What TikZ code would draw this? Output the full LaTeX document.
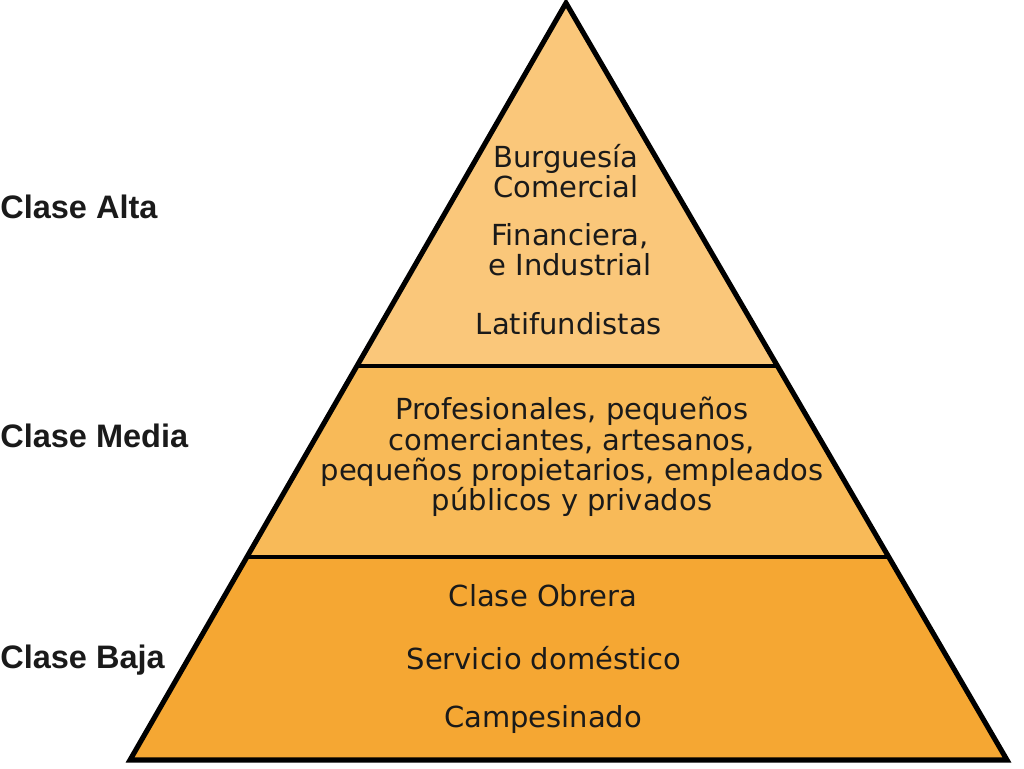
\documentclass[tikz,border=0pt]{standalone}
\usepackage{fontspec}
\newfontfamily\pixfont{DejaVu Sans}
\newfontfamily\lblfont{Liberation Sans}
\usetikzlibrary{calc}
\definecolor{naranjaA}{HTML}{FAC77A}
\definecolor{naranjaM}{HTML}{F8BA58}
\definecolor{naranjaB}{HTML}{F5A733}
\definecolor{tinta}{HTML}{1A1A1A}
\begin{document}
\begin{tikzpicture}[x=0.02cm,y=-0.02cm,
    capa/.style={text=tinta,align=center,inner sep=0pt,font=\pixfont\fontsize{16.5}{17.2}\selectfont},
    clase/.style={anchor=west,inner sep=0pt,text=tinta,font=\lblfont\bfseries\fontsize{18.5}{20}\selectfont}]
  \useasboundingbox (0,0) rectangle (1024,768);
  \coordinate (apex) at (566,3);
  \coordinate (bl) at (130,760);
  \coordinate (br) at (1007,760);
  \coordinate (al) at ($(apex)!0.4795!(bl)$);
  \coordinate (ar) at ($(apex)!0.4795!(br)$);
  \coordinate (ml) at ($(apex)!0.7318!(bl)$);
  \coordinate (mr) at ($(apex)!0.7318!(br)$);
  % capas
  \fill[naranjaA] (apex) -- (al) -- (ar) -- cycle;
  \fill[naranjaM] (al) -- (ml) -- (mr) -- (ar) -- cycle;
  \fill[naranjaB] (ml) -- (bl) -- (br) -- (mr) -- cycle;
  \draw[line width=2.6pt] (al) -- (ar);
  \draw[line width=2.6pt] (ml) -- (mr);
  \draw[line width=2.9pt,line join=miter] (apex) -- (bl) -- (br) -- cycle;
  % textos
  \node[capa] (burguesia) at (566,171) {Burguesía\\Comercial};
  \node[capa] (financiera) at (570,250) {Financiera,\\e Industrial};
  \node[capa] (latif) at (569,324) {Latifundistas};
  \node[capa] (media) at (572,457) {Profesionales, pequeños\\comerciantes, artesanos,\\pequeños propietarios, empleados\\públicos y privados};
  \node[capa] (obrera) at (543,596) {Clase Obrera};
  \node[capa] (servicio) at (544,658) {Servicio doméstico};
  \node[capa] (campes) at (543,719) {Campesinado};
  \node[clase] (alta) at (0,207) {Clase Alta};
  \node[clase] (cmedia) at (0,436) {Clase Media};
  \node[clase] (baja) at (0,660) {Clase Baja};
\end{tikzpicture}
\end{document}
